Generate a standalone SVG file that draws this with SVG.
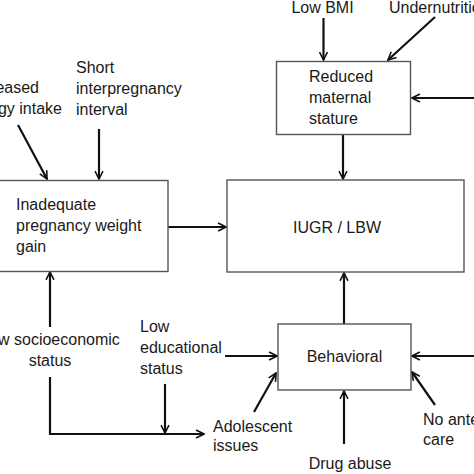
<svg xmlns="http://www.w3.org/2000/svg" width="474" height="474" viewBox="0 0 474 474">
<defs>
<marker id="arr" viewBox="0 0 10 10" refX="9" refY="5" markerWidth="4.5" markerHeight="4.5" orient="auto" markerUnits="strokeWidth">
<path d="M1,1 L9,5 L1,9" fill="none" stroke="#111" stroke-width="1.6" stroke-linejoin="miter"/>
</marker>
</defs>
<style>
text{font-family:"Liberation Sans",Arial,sans-serif;font-size:16px;fill:#1a1a1a}
.box{fill:#fff;stroke:#555;stroke-width:1.4}
.c{fill:none;stroke:#111;stroke-width:2.2}
.a{marker-end:url(#arr)}
</style>
<rect width="474" height="474" fill="#fff"/>
<g id="connectors">
<line class="c a" x1="323.5" y1="18" x2="323.5" y2="60"/>
<line class="c a" x1="435" y1="17" x2="388" y2="60"/>
<line class="c a" x1="474" y1="98" x2="412" y2="98"/>
<line class="c a" x1="343" y1="134" x2="343" y2="179"/>
<line class="c a" x1="18" y1="125" x2="47" y2="179"/>
<line class="c a" x1="99" y1="129" x2="99" y2="179"/>
<line class="c a" x1="168" y1="227" x2="226" y2="227"/>
<line class="c a" x1="50" y1="327" x2="50" y2="272"/>
<polyline class="c a" points="50,377 50,434 204,434"/>
<line class="c a" x1="165" y1="384" x2="165" y2="433"/>
<line class="c a" x1="225" y1="356" x2="277" y2="356"/>
<line class="c a" x1="254" y1="412" x2="276" y2="373"/>
<line class="c a" x1="344" y1="324" x2="344" y2="273"/>
<line class="c a" x1="344" y1="444" x2="344" y2="391"/>
<line class="c a" x1="435" y1="405" x2="412" y2="372"/>
<line class="c a" x1="474" y1="356" x2="412" y2="356"/>
</g>
<g id="reduced">
<rect class="box" x="276.5" y="61.5" width="134" height="73"/>
<text x="309" y="82">Reduced</text>
<text x="309" y="103">maternal</text>
<text x="309" y="124">stature</text>
</g>
<g id="iugr">
<rect class="box" x="227" y="180" width="237" height="92"/>
<text x="337" y="233" text-anchor="middle">IUGR / LBW</text>
</g>
<g id="inadequate">
<rect class="box" x="-10" y="180.5" width="178" height="91"/>
<text x="16" y="210">Inadequate</text>
<text x="16" y="231">pregnancy weight</text>
<text x="16" y="252">gain</text>
</g>
<g id="behavioral">
<rect class="box" x="278" y="324" width="133" height="66"/>
<text x="344.5" y="362" text-anchor="middle">Behavioral</text>
</g>
<g id="lowbmi"><text x="322.5" y="13" text-anchor="middle">Low BMI</text></g>
<g id="undernutrition"><text x="389" y="13">Undernutrition</text></g>
<g id="decreased">
<text x="39" y="93" text-anchor="end">Decreased</text>
<text x="62" y="114" text-anchor="end">energy intake</text>
</g>
<g id="short">
<text x="76" y="73">Short</text>
<text x="76" y="94">interpregnancy</text>
<text x="76" y="115">interval</text>
</g>
<g id="socio">
<text x="50" y="345" text-anchor="middle">Low socioeconomic</text>
<text x="50" y="366" text-anchor="middle">status</text>
</g>
<g id="educational">
<text x="140" y="332">Low</text>
<text x="140" y="353">educational</text>
<text x="140" y="374">status</text>
</g>
<g id="adolescent">
<text x="213" y="432">Adolescent</text>
<text x="213" y="451">issues</text>
</g>
<g id="drug"><text x="350" y="469" text-anchor="middle">Drug abuse</text></g>
<g id="antenatal">
<text x="423" y="425">No antenatal</text>
<text x="423" y="445">care</text>
</g>
</svg>
